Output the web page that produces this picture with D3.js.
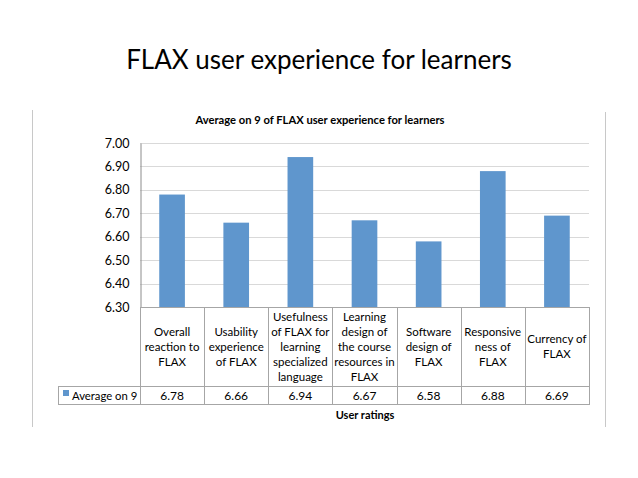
<!DOCTYPE html>
<html>
<head>
<meta charset="utf-8">
<script src="https://d3js.org/d3.v7.min.js"></script>
<style>
body { margin: 0; background: #fff; }
text { font-family: Lato, "Open Sans", sans-serif; fill: #000; }
</style>
</head>
<body>
<script>
// chart data
var categories = [
	["Overall", "reaction to", "FLAX"],
	["Usability", "experience", "of FLAX"],
	["Usefulness", "of FLAX for", "learning", "specialized", "language"],
	["Learning", "design of", "the course", "resources in", "FLAX"],
	["Software", "design of", "FLAX"],
	["Responsive", "ness of", "FLAX"],
	["Currency of", "FLAX"]
];
var values = [6.78, 6.66, 6.94, 6.67, 6.58, 6.88, 6.69];
var yTicks = [6.30, 6.40, 6.50, 6.60, 6.70, 6.80, 6.90, 7.00];
var seriesName = "Average on 9";

var width = 638, height = 478;
var plotLeft = 140, plotRight = 589, plotTop = 143, plotBottom = 307;
var tableMid = 386, tableBottom = 404, legendLeft = 58;

var svg = d3.select("body").append("svg")
	.attr("width", width)
	.attr("height", height);

// slide title
svg.append("text")
	.attr("x", 319)
	.attr("y", 69)
	.attr("text-anchor", "middle")
	.attr("font-size", 26)
	.text("FLAX user experience for learners");

// chart frame (side edges only)
svg.append("line").attr("x1", 32.5).attr("x2", 32.5).attr("y1", 110).attr("y2", 427)
	.attr("stroke", "#c8c8c8");
svg.append("line").attr("x1", 605.5).attr("x2", 605.5).attr("y1", 112).attr("y2", 427)
	.attr("stroke", "#c8c8c8");

svg.append("text")
	.attr("x", 320)
	.attr("y", 124)
	.attr("text-anchor", "middle")
	.attr("font-size", 11.2)
	.attr("font-weight", "bold")
	.text("Average on 9 of FLAX user experience for learners");

var x = d3.scaleBand()
	.domain(d3.range(categories.length))
	.range([plotLeft, plotRight]);
var y = d3.scaleLinear()
	.domain([6.3, 7.0])
	.range([plotBottom, plotTop]);

// gridlines
svg.append("g")
	.selectAll("line")
	.data(yTicks.slice(1))
	.enter()
	.append("line")
		.attr("x1", plotLeft)
		.attr("x2", plotRight)
		.attr("y1", function(d) { return Math.round(y(d)) + 0.5; })
		.attr("y2", function(d) { return Math.round(y(d)) + 0.5; })
		.attr("stroke", "#d9d9d9");

// y axis
var yAxis = svg.append("g")
	.attr("transform", "translate(" + (plotLeft + 0.5) + ",0)")
	.call(d3.axisLeft(y).tickValues(yTicks).tickFormat(d3.format(".2f")).tickSize(0).tickPadding(11));
yAxis.select(".domain").attr("stroke", "#8c8c8c");
yAxis.selectAll("text")
	.attr("font-family", "Lato, 'Open Sans', sans-serif")
	.attr("font-size", 12.5)
	.attr("fill", "#000");

// bars
svg.append("g")
	.selectAll("rect")
	.data(values)
	.enter()
	.append("rect")
		.attr("x", function(d, i) { return x(i) + x.bandwidth() * 0.3; })
		.attr("width", x.bandwidth() * 0.4)
		.attr("y", function(d) { return y(d); })
		.attr("height", function(d) { return plotBottom - y(d); })
		.attr("fill", "#5f96cd");

// data table
var grid = svg.append("g").attr("stroke", "#a6a6a6").attr("fill", "none");
grid.append("line").attr("x1", plotLeft).attr("x2", plotRight)
	.attr("y1", plotBottom + 0.5).attr("y2", plotBottom + 0.5);
grid.append("rect")
	.attr("x", legendLeft + 0.5).attr("y", tableMid + 0.5)
	.attr("width", plotRight - legendLeft).attr("height", tableBottom - tableMid);
grid.selectAll("line.sep")
	.data(d3.range(categories.length + 1))
	.enter()
	.append("line")
		.attr("class", "sep")
		.attr("x1", function(d) { return Math.round(plotLeft + d * x.step()) + 0.5; })
		.attr("x2", function(d) { return Math.round(plotLeft + d * x.step()) + 0.5; })
		.attr("y1", plotBottom)
		.attr("y2", tableBottom + 0.5);

// category labels
var lineH = 15;
svg.append("g")
	.selectAll("text")
	.data(categories)
	.enter()
	.append("text")
		.attr("text-anchor", "middle")
		.attr("font-size", 11.5)
		.each(function(d, i) {
			var t = d3.select(this);
			var y0 = 350.5 - (d.length - 1) * lineH / 2;
			d.forEach(function(s, k) {
				t.append("tspan")
					.attr("x", x(i) + x.bandwidth() / 2)
					.attr("y", y0 + k * lineH)
					.text(s);
			});
		});

// value row
svg.append("g")
	.selectAll("text")
	.data(values)
	.enter()
	.append("text")
		.attr("x", function(d, i) { return x(i) + x.bandwidth() / 2; })
		.attr("y", 399.5)
		.attr("text-anchor", "middle")
		.attr("font-size", 12)
		.text(function(d) { return d3.format(".2f")(d); });

// legend key
svg.append("rect")
	.attr("x", 63).attr("y", 390).attr("width", 6).attr("height", 6)
	.attr("fill", "#5f96cd");
svg.append("text")
	.attr("x", 72)
	.attr("y", 399.5)
	.attr("font-size", 11.3)
	.text(seriesName);

svg.append("text")
	.attr("x", 365)
	.attr("y", 419)
	.attr("text-anchor", "middle")
	.attr("font-size", 11)
	.attr("font-weight", "bold")
	.text("User ratings");
</script>
</body>
</html>
